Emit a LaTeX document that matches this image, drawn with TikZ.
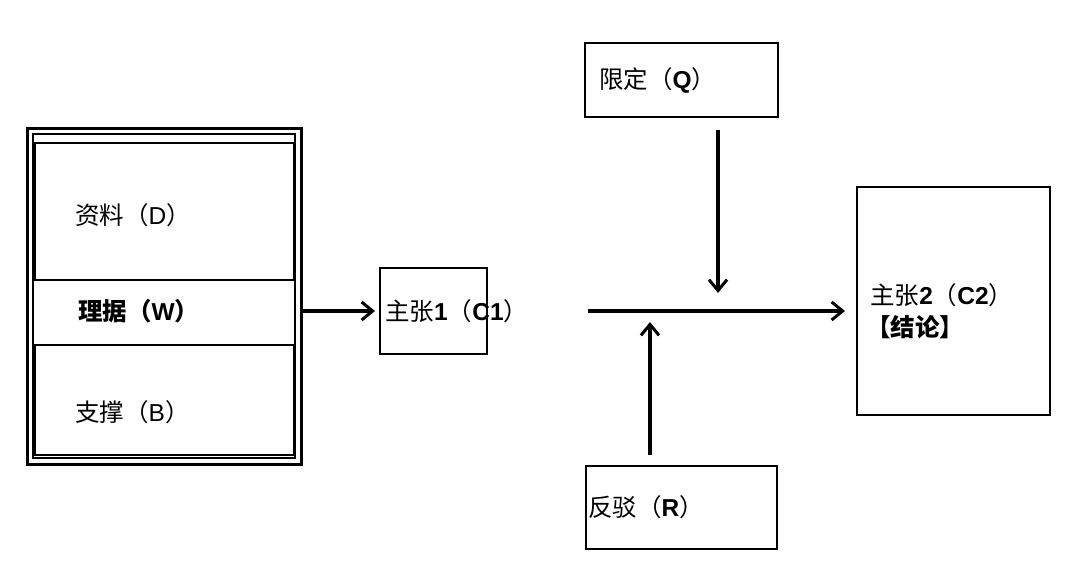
\documentclass[tikz,border=0pt]{standalone}
\usepackage{fontspec}
\setmainfont{Liberation Sans}
\newfontfamily\cjk{Noto Sans CJK SC}
\newcommand{\lt}[1]{{\rmfamily #1}}
\usetikzlibrary{arrows.meta}
\begin{document}
\begin{tikzpicture}[x=1pt,y=-1pt,
  box/.style={draw,line width=2pt},
  lbl/.style={font=\cjk\fontsize{24.5}{32}\selectfont,align=left,inner sep=0pt,anchor=west},
  arr/.style={line width=3.2pt,-{Straight Barb[length=11pt,width=18pt,line width=3pt]}}]
\useasboundingbox (0,0) rectangle (1080,584);
\draw[line width=3pt] (27,128) rectangle (301,464);
\draw[line width=1.5pt] (33,134) rectangle (295,458);
\draw[box] (35,143) rectangle (294,280);
\draw[box] (35,345) rectangle (294,455);
\node[lbl] (d) at (75,215) {资料（\lt{D}）};
\node[lbl] (w) at (78,311) {\textbf{理据（\lt{W}）}};
\node[lbl] (b) at (75,412) {支撑（\lt{B}）};
\coordinate (wr) at (301,311);
\draw[box] (380,268) rectangle (487,354);
\coordinate (c1w) at (375,311);
\node[lbl] (c1) at (385,311) {主张\textbf{\lt{1}}（\textbf{\lt{C1}}）};
\draw[box] (585,43) rectangle (778,117);
\node[lbl] (q) at (599,80) {限定（\textbf{\lt{Q}}）};
\draw[box] (586,466) rectangle (777,549);
\node[lbl] (r) at (588,507.5) {反驳（\textbf{\lt{R}}）};
\draw[box] (857,187) rectangle (1050,415);
\node[lbl] (c2t) at (866,311) {\,主张\textbf{\lt{2}}（\textbf{\lt{C2}}）\\\textbf{【结论】}};
\coordinate (ls) at (588,311);
\coordinate (le) at (845,311);
\coordinate (qs) at (718,130);
\coordinate (qt) at (718,293);
\coordinate (rs) at (650,455);
\coordinate (rt) at (650,322);
\draw[arr] (wr) -- (c1w);
\draw[arr] (ls) -- (le);
\draw[arr] (qs) -- (qt);
\draw[arr] (rs) -- (rt);
\end{tikzpicture}
\end{document}
